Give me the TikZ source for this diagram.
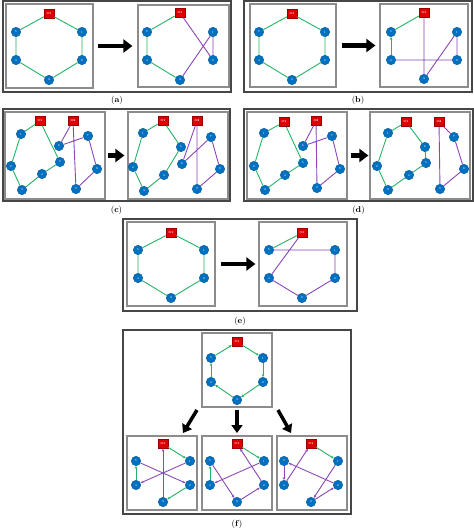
\documentclass[tikz,border=0pt]{standalone}
\usepackage{tikz}
\usetikzlibrary{arrows.meta,positioning,fit,calc}
\definecolor{azulnodo}{RGB}{0,112,192}
\definecolor{rojobase}{RGB}{222,0,0}
\definecolor{verdearista}{RGB}{38,180,100}
\definecolor{moradoarista}{RGB}{140,70,185}
\definecolor{grismarco}{RGB}{70,70,70}
\definecolor{grispanel}{RGB}{140,140,140}
\tikzset{
  nodo/.style={circle,draw=azulnodo!80!black,line width=0.4pt,fill=azulnodo,minimum size=9.5pt,
    inner sep=0pt,text=white,font=\fontsize{3}{3}\selectfont},
  base/.style={rectangle,draw=rojobase!70!black,line width=0.4pt,fill=rojobase,minimum width=10pt,
    minimum height=9pt,inner sep=0pt,text=white,font=\fontsize{3}{3}\selectfont\bfseries},
  marco/.style={rectangle,draw=grismarco,line width=2pt,inner sep=0pt},
  panel/.style={rectangle,draw=grispanel,line width=1.2pt,fill=white,inner sep=0pt},
  verde/.style={verdearista,line width=0.9pt},
  morado/.style={moradoarista,line width=0.9pt},
  dirigida/.style={-{Stealth[length=3pt,width=2.6pt]}},
  flecha/.style={-{Triangle[length=9pt,width=13pt]},line width=4.5pt,black},
  leyenda/.style={font=\fontsize{8.5}{9}\selectfont,inner sep=0pt},
}
\newcommand{\hexagrafo}[8]{%
  \node[base] (#10) at (#2,#3) {#8};
  \node[nodo] (#11) at (#2+#4,#3+#5) {1};
  \node[nodo] (#12) at (#2+#4,#3+#6) {2};
  \node[nodo] (#13) at (#2,#3+#7) {3};
  \node[nodo] (#14) at (#2-#4,#3+#6) {4};
  \node[nodo] (#15) at (#2-#4,#3+#5) {5};
}

\begin{document}
\begin{tikzpicture}[x=1pt,y=-1pt]
  \useasboundingbox (0,0) rectangle (474,531);
  \fill[white] (0,0) rectangle (474,531);

  % (a)
  \node[marco,fit={(3,1) (231,92)}] (aO) {};
  \node[panel,fit={(6,4) (93,88)}] (aL) {};
  \node[panel,fit={(138,5) (229,87)}] (aR) {};
  \draw[flecha,shorten <=4pt,shorten >=5pt] (aL) -- (aR);
  \hexagrafo{al}{49}{14}{33}{18}{46}{66}{01}
  \draw[verde] (al0) -- (al1) -- (al2) -- (al3) -- (al4) -- (al5) -- (al0);
  \hexagrafo{ar}{180}{13}{33}{19}{47}{67}{01}
  \draw[verde] (ar0) -- (ar5) -- (ar4) -- (ar3);
  \draw[morado] (ar0) -- (ar2) -- (ar1) -- (ar3);
  \node[leyenda,below=3pt of aO] (capa) {(\textbf{a})};

  % (b)
  \node[marco,fit={(244,1) (472,92)}] (bO) {};
  \node[panel,fit={(250,4) (336,87)}] (bL) {};
  \node[panel,fit={(380,4) (468,87)}] (bR) {};
  \draw[flecha,shorten <=5pt,shorten >=4pt] (bL) -- (bR);
  \hexagrafo{bl}{292}{14}{33}{18}{46}{66}{01}
  \draw[verde] (bl0) -- (bl1) -- (bl2) -- (bl3) -- (bl4) -- (bl5) -- (bl0);
  \hexagrafo{br}{424}{13}{33}{19}{47}{66}{01}
  \draw[verde] (br0) -- (br5);
  \draw[verde,dirigida] (br4) -- (br5);
  \draw[morado] (br0) -- (br3) -- (br1) -- (br2) -- (br4);
  \node[leyenda,below=3pt of bO] (capb) {(\textbf{b})};

  % (c)
  \node[marco,fit={(3,109) (230,201)}] (cO) {};
  \node[panel,fit={(5,112) (105,199)}] (cL) {};
  \node[panel,fit={(128,112) (228,199)}] (cR) {};
  \draw[flecha,shorten <=2pt,shorten >=3pt] (cL) -- (cR);
  \foreach \n/\x/\y in {1/21/134,2/11/166,3/22/190,4/42/174,5/60/162,
                        6/59/146,7/88/136,8/97/169,9/76/189}
    \node[nodo] (cl\n) at (\x,\y) {\n};
  \node[base] (cla) at (40,121) {01};
  \node[base] (clb) at (73,121) {02};
  \draw[verde] (cla) -- (cl1) -- (cl2) -- (cl3) -- (cl4) -- (cl5) -- (cla);
  \draw[morado] (clb) -- (cl6) -- (cl7) -- (cl8) -- (cl9) -- (clb);
  \foreach \n/\x/\y in {1/143/133,2/133/167,3/144/191,4/164/175,5/181/147,
                        6/182/164,7/211/137,8/220/169,9/197/189}
    \node[nodo] (cr\n) at (\x,\y) {\n};
  \node[base] (cra) at (163,121) {01};
  \node[base] (crb) at (197,121) {02};
  \draw[verde] (cra) -- (cr1) -- (cr2) -- (cr3) -- (cr4) -- (cr5) -- (cra);
  \draw[morado] (crb) -- (cr6) -- (cr7) -- (cr8) -- (cr9) -- (crb);
  \node[leyenda,below=4pt of cO] (capc) {(\textbf{c})};

  % (d)
  \node[marco,fit={(244,109) (473,201)}] (dO) {};
  \node[panel,fit={(247,112) (347,199)}] (dL) {};
  \node[panel,fit={(370,112) (470,199)}] (dR) {};
  \draw[flecha,shorten <=3pt,shorten >=1pt] (dL) -- (dR);
  \foreach \n/\x/\y in {1/264/133,2/254/166,3/265/190,4/285/175,5/303/163,
                        6/303/146,7/332/136,8/340/169,9/317/188}
    \node[nodo] (dl\n) at (\x,\y) {\n};
  \node[base] (dla) at (284,122) {01};
  \node[base] (dlb) at (316,121) {02};
  \draw[verde] (dla) -- (dl1) -- (dl2) -- (dl3) -- (dl4) -- (dl5) -- (dla);
  \draw[morado] (dlb) -- (dl6) -- (dl7) -- (dl8) -- (dl9) -- (dlb);
  \foreach \n/\x/\y in {1/388/133,2/377/166,3/388/190,4/409/175,5/426/163,
                        6/425/147,7/454/137,8/464/169,9/440/189}
    \node[nodo] (dr\n) at (\x,\y) {\n};
  \node[base] (dra) at (406,122) {01};
  \node[base] (drb) at (439,122) {02};
  \draw[verde] (dra) -- (dr1) -- (dr2) -- (dr3) -- (dr4) -- (dr5) -- (dr6) -- (dra);
  \draw[morado] (drb) -- (dr7) -- (dr8) -- (dr9) -- (drb);
  \node[leyenda,below=4pt of dO] (capd) {(\textbf{d})};

  % (e)
  \node[marco,fit={(123,219) (357,311)}] (eO) {};
  \node[panel,fit={(127,222) (215,306)}] (eL) {};
  \node[panel,fit={(259,222) (347,306)}] (eR) {};
  \draw[flecha,shorten <=5pt,shorten >=3pt] (eL) -- (eR);
  \hexagrafo{el}{171}{233}{33}{17}{45}{65}{01}
  \draw[verde] (el0) -- (el1) -- (el2) -- (el3) -- (el4) -- (el5) -- (el0);
  \hexagrafo{er}{302}{233}{33}{17}{45}{65}{01}
  \draw[verde] (er0) -- (er5);
  \draw[morado] (er0) -- (er4) -- (er3) -- (er2) -- (er1) -- (er5);
  \node[leyenda,below=5pt of eO] (cape) {(\textbf{e})};

  % (f)
  \node[marco,fit={(123,330) (351,514)}] (fO) {};
  \node[panel,fit={(202,333) (272,407)}] (fT) {};
  \node[panel,fit={(127,436) (197,510)}] (fB1) {};
  \node[panel,fit={(202,436) (272,510)}] (fB2) {};
  \node[panel,fit={(277,436) (347,510)}] (fB3) {};
  \coordinate (fs1) at (197,410);
  \coordinate (fe1) at (183,433);
  \coordinate (fs2) at (237,410);
  \coordinate (fe2) at (237,433);
  \coordinate (fs3) at (278,410);
  \coordinate (fe3) at (291,433);
  \foreach \i in {1,2,3}
    \draw[flecha,line width=3.5pt,-{Triangle[length=8pt,width=11pt]}] (fs\i) -- (fe\i);
  \hexagrafo{ft}{237}{342}{26}{16}{40}{58}{01}
  \foreach \a/\b in {0/1,1/2,2/3,3/4,4/5,5/0}
    \draw[verde,dirigida] (ft\a) -- (ft\b);
  \hexagrafo{fa}{163}{444}{27}{17}{41}{58}{01}
  \foreach \a/\b in {0/1,2/3,4/5}
    \draw[verde,dirigida] (fa\a) -- (fa\b);
  \foreach \a/\b in {3/0,5/2,1/4}
    \draw[morado,dirigida] (fa\a) -- (fa\b);
  \hexagrafo{fb}{237}{444}{27}{17}{41}{58}{01}
  \foreach \a/\b in {0/1,4/5}
    \draw[verde,dirigida] (fb\a) -- (fb\b);
  \foreach \a/\b in {5/3,3/2,2/0,1/4}
    \draw[morado,dirigida] (fb\a) -- (fb\b);
  \hexagrafo{fc}{311}{444}{27}{17}{41}{58}{01}
  \draw[verde,dirigida] (fc0) -- (fc1);
  \foreach \a/\b in {5/4,4/0,2/5,1/3,3/2}
    \draw[morado,dirigida] (fc\a) -- (fc\b);
  \node[leyenda,below=5pt of fO] (capf) {(\textbf{f})};
\end{tikzpicture}
\end{document}
